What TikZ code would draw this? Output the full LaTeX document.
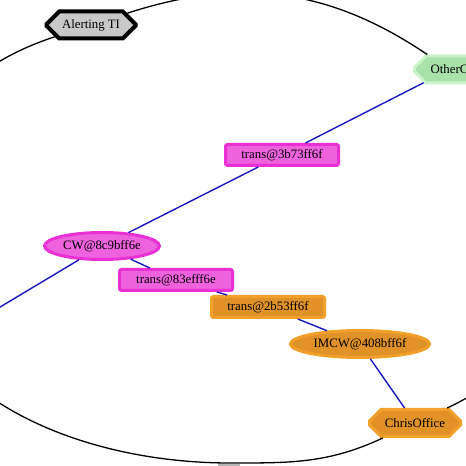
\documentclass[tikz,border=0pt]{standalone}
\usepackage{fontspec}
\setmainfont{Liberation Serif}
\usepackage{xcolor}
\usepackage{tikz}
\usetikzlibrary{shapes.misc,shapes.geometric}
\definecolor{transpink}{RGB}{238,98,222}
\definecolor{transpinkline}{RGB}{232,48,212}
\definecolor{imorange}{RGB}{224,146,40}
\definecolor{imorangeline}{RGB}{242,160,44}
\definecolor{othergreen}{RGB}{168,226,168}
\definecolor{othergreenline}{RGB}{204,244,204}
\definecolor{alertgrey}{RGB}{200,200,200}
\definecolor{wireblue}{RGB}{24,24,190}

\begin{document}
\begin{tikzpicture}[
  x=1pt, y=1pt,
  font=\fontsize{12.8}{15}\selectfont,
  transbox/.style={rectangle, rounded corners=2pt, line width=3pt,
    minimum width=113pt, minimum height=21pt, inner sep=0pt},
  compoval/.style={ellipse, line width=3pt, minimum height=27pt, inner sep=0pt},
  hostoct/.style={chamfered rectangle, chamfered rectangle xsep=15pt,
    chamfered rectangle ysep=7pt, line width=3pt,
    minimum width=91pt, minimum height=27pt, inner sep=0pt},
  pinknode/.style={fill=transpink, draw=transpinkline},
  orangenode/.style={fill=imorange, draw=imorangeline},
  wire/.style={draw=wireblue, line width=1.4pt},
  ring/.style={draw=black, line width=1.3pt}
]
\useasboundingbox (0,0) rectangle (466,466);
\clip (0,0) rectangle (466,466);

% off-page ends of the ring and of the left wire
\coordinate (east) at (560,233);
\coordinate (south) at (230,3);
\coordinate (west) at (-100,233);
\coordinate (offw) at (-60,123);

\node[hostoct, fill=alertgrey, draw=black, line width=4pt, minimum width=89pt] (alert) at (91,441) {Alerting TI};
\node[hostoct, fill=othergreen, draw=othergreenline, minimum width=70pt] (other) at (449.5,396.5) {OtherC};
\node[hostoct, orangenode] (chris) at (415,43) {ChrisOffice};

\node[transbox, pinknode] (t3b73) at (282,311) {trans@3b73ff6f};
\node[compoval, pinknode, minimum width=115pt] (cw) at (102,220) {CW@8c9bff6e};
\node[transbox, pinknode] (t83ef) at (176,186) {trans@83efff6e};
\node[transbox, orangenode] (t2b53) at (268,159) {trans@2b53ff6f};
\node[compoval, orangenode, minimum width=139pt] (imcw) at (360,122) {IMCW@408bff6f};

\draw[ring] (alert) to[out=18,in=146] (other);
\draw[ring] (other) to[out=-34,in=90] (east) to[out=-90,in=25] (chris);
\draw[ring] (chris) to[out=205,in=0] (south) to[out=180,in=-90] (west)
  to[out=90,in=198] (alert);

\draw[wire] (other) -- (t3b73);
\draw[wire] (t3b73) -- (cw);
\draw[wire] (cw) -- (offw);
\draw[wire] (cw) -- (t83ef);
\draw[wire] (t83ef) -- (t2b53);
\draw[wire] (t2b53) -- (imcw);
\draw[wire] (imcw) -- (chris);

\fill[alertgrey!90!black] (218,0) rectangle (240,2);
\end{tikzpicture}
\end{document}
